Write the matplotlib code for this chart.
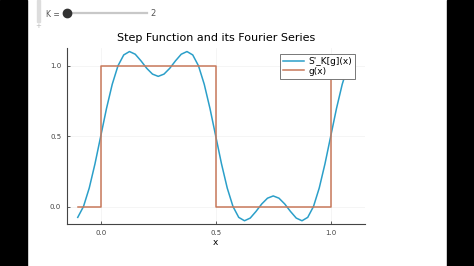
import matplotlib
matplotlib.use("Agg")
import matplotlib.pyplot as plt
from matplotlib.patches import Rectangle
from matplotlib.lines import Line2D

# Fourier partial sum S'_K[g](x), K = 2
sx = [-0.1, -0.075, -0.05, -0.025, 0.0, 0.025, 0.05, 0.075, 0.1, 0.125, 0.15,
      0.175, 0.2, 0.225, 0.25, 0.275, 0.3, 0.325, 0.35, 0.375, 0.4, 0.425,
      0.45, 0.475, 0.5, 0.525, 0.55, 0.575, 0.6, 0.625, 0.65, 0.675, 0.7,
      0.725, 0.75, 0.775, 0.8, 0.825, 0.85, 0.875, 0.9, 0.925, 0.95, 0.975,
      1.0, 1.025, 1.05, 1.075, 1.1]
sy = [-0.076, 0.001, 0.132, 0.304, 0.5, 0.696, 0.868, 0.999, 1.076, 1.100,
      1.081, 1.034, 0.981, 0.940, 0.924, 0.940, 0.981, 1.034, 1.081, 1.100,
      1.076, 0.999, 0.868, 0.696, 0.5, 0.304, 0.132, 0.001, -0.076, -0.100,
      -0.081, -0.034, 0.019, 0.060, 0.076, 0.060, 0.019, -0.034, -0.081,
      -0.100, -0.076, 0.001, 0.132, 0.304, 0.5, 0.696, 0.868, 0.999, 1.076]

# step function g(x)
gx = [-0.1, 0.0, 0.0, 0.5, 0.5, 1.0, 1.0, 1.1]
gy = [0, 0, 1, 1, 0, 0, 1, 1]

xticks = [0.0, 0.5, 1.0]
yticks = [0.0, 0.5, 1.0]
k_value = 2

W, H = 474, 266
fig = plt.figure(figsize=(W / 100, H / 100), dpi=100)
fig.patch.set_facecolor("white")

# black side bars of the screen capture
fig.patches.append(Rectangle((0, 0), 27 / W, 1, transform=fig.transFigure,
                             color="black", zorder=10))
fig.patches.append(Rectangle((447 / W, 0), 1, 1, transform=fig.transFigure,
                             color="black", zorder=10))

# slider widget above the plot
fig.patches.append(Rectangle((37 / W, 1 - 22 / H), 3 / W, 22 / H,
                             transform=fig.transFigure, color="#dddddd"))
fig.text(38.5 / W, 1 - 26 / H, "+", fontsize=5, color="#bbbbbb",
         ha="center", va="center")
fig.text(46 / W, 1 - 14.5 / H, "K =", fontsize=5.5, color="#555555",
         ha="left", va="center")
fig.lines.append(Line2D([67 / W, 147 / W], [1 - 12.7 / H, 1 - 12.7 / H],
                        transform=fig.transFigure, color="#c8c8c8", lw=1.6))
fig.lines.append(Line2D([67 / W], [1 - 12.7 / H], transform=fig.transFigure,
                        marker="o", markersize=6, color="#333333", lw=0))
fig.text(150 / W, 1 - 13.5 / H, str(k_value), fontsize=6, color="#555555",
         ha="left", va="center")

ax = fig.add_axes([66.7 / W, 1 - 224 / H, (365 - 66.7) / W, (224 - 48.3) / H])
ax.plot(sx, sy, color="#2b9fc9", lw=1.1, label="S'_K[g](x)")
ax.plot(gx, gy, color="#c8785a", lw=1.1, label="g(x)")

ax.set_xlim(-0.148, 1.149)
ax.set_ylim(-0.123, 1.123)
ax.set_xticks(xticks)
ax.set_yticks(yticks)
ax.set_xticklabels([f"{t:.1f}" for t in xticks])
ax.set_yticklabels([f"{t:.1f}" for t in yticks])
ax.tick_params(direction="in", length=2.5, width=0.6, labelsize=5,
               colors="#444444", pad=4)
for side in ("top", "right"):
    ax.spines[side].set_visible(False)
for side in ("left", "bottom"):
    ax.spines[side].set_color("#444444")
    ax.spines[side].set_linewidth(0.8)
ax.grid(True, color="black", alpha=0.06, lw=0.5)

ax.set_title("Step Function and its Fourier Series", fontsize=8, pad=5)
ax.set_xlabel("x", fontsize=6.5, labelpad=2)

leg = ax.legend(loc="upper right", bbox_to_anchor=(0.9665, 0.9676),
                borderaxespad=0, fontsize=6.5, fancybox=False, framealpha=1,
                handlelength=2.4, handletextpad=0.4, borderpad=0.35,
                labelspacing=0.05)
leg.get_frame().set_edgecolor("#777777")
leg.get_frame().set_linewidth(0.7)

fig.savefig("out.png", dpi=100)
